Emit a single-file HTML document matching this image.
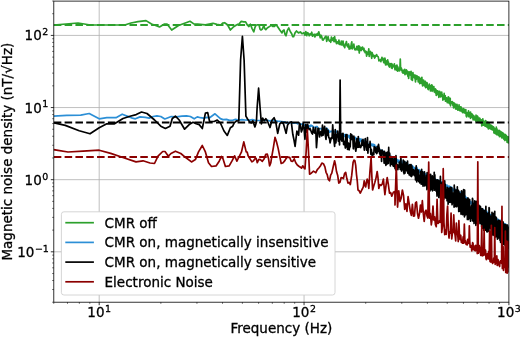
<!DOCTYPE html>
<html><head><meta charset="utf-8"><title>Magnetic noise density</title><style>html,body{margin:0;padding:0;background:#fff;overflow:hidden}svg{display:block}</style></head><body>
<svg width="520" height="337" viewBox="0 0 520 337">
<style>.t{font-family:"DejaVu Sans","Liberation Sans",sans-serif;font-size:13.5px;fill:#000;stroke:#000;stroke-width:0.3px}</style>
<rect width="520" height="337" fill="#fff"/>
<defs><clipPath id="ax"><rect x="53.8" y="1.1" width="455.09999999999997" height="301.09999999999997"/></clipPath></defs>
<g stroke="#b0b0b0" stroke-width="0.8"><line x1="99.20" y1="1.1" x2="99.20" y2="302.2"/><line x1="304.05" y1="1.1" x2="304.05" y2="302.2"/><line x1="53.8" y1="35.42" x2="508.9" y2="35.42"/><line x1="53.8" y1="107.55" x2="508.9" y2="107.55"/><line x1="53.8" y1="179.68" x2="508.9" y2="179.68"/><line x1="53.8" y1="251.81" x2="508.9" y2="251.81"/></g>
<g clip-path="url(#ax)" fill="none" stroke-width="1.7" stroke-linejoin="round" stroke-linecap="square">
<path d="M53.80,25.00 L66.00,24.00 L78.00,23.00 L90.50,25.00 L99.00,25.00 L115.00,25.00 L125.50,24.80 L131.00,23.00 L138.00,21.60 L146.00,20.60 L151.50,24.00 L155.00,25.30 L159.50,27.00 L164.50,24.00 L167.00,24.00 L171.70,30.00 L178.50,25.50 L190.00,21.30 L193.85,23.85 L197.70,24.20 L205.35,24.86 L213.00,23.30 L216.90,24.31 L220.80,25.20 L222.70,23.18 L224.60,22.70 L227.50,24.74 L230.40,30.00 L233.20,27.18 L236.00,25.20 L237.40,24.37 L238.80,24.20 L241.25,21.41 L243.70,21.90 L245.60,21.93 L247.50,25.20 L248.95,26.50 L250.40,24.20 L252.10,28.60 L253.80,31.90 L254.90,27.59 L256.00,25.20 L257.50,24.77 L259.00,24.80 L260.00,29.11 L261.00,30.00 L262.40,29.03 L263.80,25.20 L264.80,28.64 L265.80,29.60 L267.25,27.96 L268.70,27.10 L270.10,26.12 L271.50,25.20 L272.95,26.49 L274.40,26.50 L275.85,24.77 L277.30,26.20 L279.65,29.75 L282.00,32.90 L283.00,30.63 L284.00,30.00 L285.00,34.27 L286.00,35.80 L287.40,30.33 L288.80,28.00 L290.25,31.55 L291.70,33.80 L292.65,36.58 L293.60,36.70 L295.05,32.87 L296.50,31.00 L298.45,32.87 L300.40,31.90 L301.95,33.74 L303.50,32.90 L304.05,32.82 L304.94,35.15 L305.81,31.49 L306.68,35.65 L307.54,32.72 L308.39,33.49 L309.23,35.78 L310.07,33.83 L310.90,34.78 L311.72,32.21 L312.53,36.26 L313.33,35.24 L314.13,34.23 L314.92,36.92 L315.71,34.34 L316.48,35.32 L317.25,33.60 L318.02,35.29 L318.78,31.74 L319.53,34.70 L320.27,37.79 L321.01,35.23 L321.74,36.71 L322.47,39.93 L323.19,40.06 L323.90,38.89 L324.61,38.03 L325.31,36.68 L326.01,36.23 L326.70,41.32 L327.39,38.82 L328.07,36.63 L328.75,39.88 L329.42,41.01 L330.09,40.23 L330.75,42.26 L331.41,37.19 L332.06,40.33 L332.70,40.11 L333.35,37.93 L333.98,41.60 L334.62,36.50 L335.25,41.69 L335.87,39.89 L336.49,43.56 L337.11,41.77 L337.72,41.96 L338.32,43.60 L338.93,40.16 L339.53,44.37 L340.12,43.74 L340.71,44.54 L341.30,41.15 L341.88,45.00 L342.46,41.51 L343.04,41.03 L343.61,45.85 L344.18,46.07 L344.74,47.63 L345.31,44.08 L345.86,43.07 L346.42,41.64 L346.97,45.64 L347.52,46.26 L348.06,47.12 L348.60,43.97 L349.14,49.04 L349.67,46.44 L350.20,47.60 L350.73,48.72 L351.26,44.00 L351.78,41.92 L352.30,48.79 L352.81,46.12 L353.33,47.27 L353.84,44.04 L354.34,48.09 L354.85,49.72 L355.35,49.32 L355.85,49.83 L356.34,48.63 L356.84,46.30 L357.33,49.58 L357.81,46.39 L358.30,50.26 L358.78,45.80 L359.26,53.03 L359.74,46.71 L360.21,48.16 L360.68,48.04 L361.15,50.52 L361.62,47.67 L362.08,49.21 L362.55,47.09 L363.01,48.86 L363.46,50.04 L363.92,48.37 L364.37,51.76 L364.82,50.47 L365.27,52.76 L365.72,52.55 L366.16,51.43 L366.60,56.12 L367.04,53.07 L367.48,54.36 L367.91,51.76 L368.35,53.19 L368.78,48.93 L369.21,56.33 L369.63,52.02 L370.06,52.31 L370.48,51.42 L370.90,52.74 L371.32,55.98 L371.74,58.28 L372.15,52.58 L372.56,54.27 L372.97,54.74 L373.38,56.41 L373.79,55.36 L374.20,56.34 L374.60,58.06 L375.00,57.58 L375.40,55.61 L375.80,56.31 L376.19,56.02 L376.59,54.67 L376.98,55.42 L377.37,56.10 L377.76,56.48 L378.15,56.66 L378.54,58.43 L378.92,60.99 L379.30,60.00 L379.68,60.29 L380.06,60.29 L380.44,59.55 L380.82,61.70 L381.19,60.55 L381.56,59.64 L381.94,57.32 L382.31,60.01 L382.67,58.58 L383.04,58.32 L383.41,60.78 L383.77,62.67 L384.13,59.95 L384.49,63.01 L384.85,58.03 L385.21,59.72 L385.57,64.83 L385.92,61.66 L386.28,61.24 L386.63,64.76 L386.98,60.63 L387.33,64.50 L387.68,59.78 L388.02,62.87 L388.37,62.07 L388.71,65.90 L389.06,63.36 L389.40,67.04 L389.74,65.11 L390.08,65.68 L390.42,64.82 L390.75,63.71 L391.09,64.39 L391.42,67.83 L391.75,63.55 L392.08,68.44 L392.41,67.22 L392.74,64.99 L393.07,66.84 L393.40,65.44 L393.72,65.60 L394.05,66.50 L394.37,63.73 L394.69,66.75 L395.01,69.78 L395.33,65.82 L395.65,68.75 L395.97,67.07 L396.28,65.83 L396.60,70.16 L396.91,64.98 L397.22,66.86 L397.54,71.18 L397.85,66.91 L398.16,70.59 L398.46,69.28 L398.77,70.63 L399.08,69.73 L399.38,68.27 L399.69,70.81 L399.99,66.55 L400.29,59.00 L400.59,68.94 L400.89,69.72 L401.19,67.78 L401.49,68.50 L401.79,70.69 L402.08,69.80 L402.38,72.37 L402.67,71.41 L402.97,73.09 L403.26,72.47 L403.55,71.84 L403.84,70.10 L404.13,73.22 L404.42,70.18 L404.71,69.27 L404.99,74.74 L405.28,72.35 L405.56,73.90 L405.85,72.58 L406.13,73.22 L406.41,69.90 L406.69,70.96 L406.97,74.03 L407.25,73.57 L407.53,71.26 L407.81,76.18 L408.08,71.55 L408.36,73.85 L408.64,78.37 L408.91,75.41 L409.18,72.92 L409.46,72.22 L409.73,71.85 L410.00,72.78 L410.27,73.04 L410.54,75.26 L410.81,74.90 L411.07,71.31 L411.34,79.57 L411.61,77.44 L411.87,76.84 L412.13,78.03 L412.40,80.52 L412.66,73.40 L412.92,72.50 L413.18,75.73 L413.45,74.28 L413.71,77.47 L413.96,75.58 L414.22,75.75 L414.48,76.05 L414.74,75.05 L414.99,79.06 L415.25,78.66 L415.50,81.95 L415.76,75.26 L416.01,77.77 L416.26,79.45 L416.51,76.43 L416.76,77.95 L417.01,75.90 L417.26,76.41 L417.51,77.36 L417.76,78.70 L418.01,79.13 L418.26,81.80 L418.50,78.54 L418.75,76.91 L418.99,81.88 L419.24,77.43 L419.48,77.76 L419.72,83.74 L419.96,82.00 L420.21,79.67 L420.45,78.60 L420.69,80.28 L420.93,80.16 L421.16,83.51 L421.40,80.95 L421.64,79.11 L421.88,77.36 L422.11,82.63 L422.35,79.80 L422.58,85.87 L422.82,82.18 L423.05,80.13 L423.29,83.47 L423.52,83.53 L423.75,80.25 L423.98,84.96 L424.21,84.99 L424.44,85.89 L424.67,84.61 L424.90,84.89 L425.13,81.96 L425.36,81.30 L425.58,87.61 L425.81,87.07 L426.04,85.37 L426.26,87.26 L426.49,83.95 L426.71,86.45 L426.94,82.62 L427.16,83.35 L427.38,84.14 L427.60,85.86 L427.83,88.92 L428.05,85.86 L428.27,89.57 L428.49,86.59 L428.71,88.97 L428.93,86.21 L429.14,88.52 L429.36,84.21 L429.58,86.24 L429.80,87.37 L430.01,87.86 L430.23,85.90 L430.44,90.96 L430.66,90.13 L430.87,88.59 L431.08,88.37 L431.30,85.59 L431.51,85.66 L431.72,84.75 L431.93,85.00 L432.15,91.31 L432.36,85.97 L432.57,88.15 L432.78,86.59 L432.98,89.98 L433.19,86.82 L433.40,87.10 L433.61,87.31 L433.82,86.59 L434.02,90.36 L434.23,91.77 L434.43,88.94 L434.64,89.17 L434.84,92.30 L435.05,92.01 L435.25,88.75 L435.46,92.63 L435.66,92.91 L435.86,89.47 L436.06,92.07 L436.26,95.45 L436.47,90.27 L436.67,91.77 L436.87,92.07 L437.07,91.97 L437.27,92.45 L437.46,90.82 L437.66,94.02 L437.86,91.45 L438.06,95.02 L438.26,93.01 L438.45,92.01 L438.65,91.46 L438.84,97.49 L439.04,92.82 L439.23,94.28 L439.43,93.75 L439.62,91.42 L439.82,95.81 L440.01,91.78 L440.20,96.05 L440.39,96.11 L440.59,96.83 L440.78,95.59 L440.97,93.05 L441.16,94.68 L441.35,94.80 L441.54,95.96 L441.73,92.11 L441.92,96.45 L442.11,94.10 L442.30,95.02 L442.48,96.15 L442.67,95.68 L442.86,100.15 L443.04,98.76 L443.23,97.45 L443.42,98.33 L443.60,95.98 L443.79,99.17 L443.97,98.61 L444.16,93.46 L444.34,95.69 L444.52,97.29 L444.71,96.96 L444.89,98.28 L445.07,96.54 L445.25,95.90 L445.44,101.20 L445.62,98.98 L445.80,97.80 L445.98,101.05 L446.16,98.19 L446.34,97.78 L446.52,100.57 L446.70,98.92 L446.88,98.06 L447.06,98.27 L447.23,102.66 L447.41,102.02 L447.59,100.54 L447.77,98.79 L447.94,101.14 L448.12,98.74 L448.30,96.75 L448.47,100.68 L448.65,100.10 L448.82,97.40 L449.00,103.30 L449.17,99.33 L449.34,101.73 L449.52,98.93 L449.69,98.46 L449.86,100.07 L450.04,104.19 L450.21,98.30 L450.38,103.82 L450.55,105.79 L450.72,103.14 L450.89,102.04 L451.06,102.06 L451.24,103.67 L451.41,101.77 L451.57,102.95 L451.74,101.80 L451.91,102.59 L452.08,103.44 L452.25,101.67 L452.42,102.40 L452.59,103.26 L452.75,103.65 L452.92,105.43 L453.09,104.77 L453.25,104.49 L453.42,106.17 L453.59,107.79 L453.75,102.57 L453.92,104.16 L454.08,103.00 L454.25,105.23 L454.41,105.45 L454.57,103.36 L454.74,106.41 L454.90,105.74 L455.06,105.20 L455.23,107.80 L455.39,107.62 L455.55,108.94 L455.71,104.40 L455.87,108.25 L456.04,109.14 L456.20,107.66 L456.36,105.54 L456.52,105.88 L456.68,106.95 L456.84,108.91 L457.00,104.39 L457.16,105.29 L457.32,108.18 L457.48,106.65 L457.63,106.22 L457.79,110.22 L457.95,106.30 L458.11,108.65 L458.26,110.00 L458.42,109.09 L458.58,108.92 L458.73,109.09 L458.89,109.60 L459.05,104.74 L459.20,108.90 L459.36,109.88 L459.51,110.41 L459.67,110.59 L459.82,110.68 L459.98,106.75 L460.13,108.24 L460.28,108.73 L460.44,111.01 L460.59,108.74 L460.74,108.07 L460.90,106.94 L461.05,108.38 L461.20,110.93 L461.35,107.23 L461.51,108.05 L461.66,108.87 L461.81,110.07 L461.96,109.32 L462.11,112.02 L462.26,108.73 L462.41,110.60 L462.56,111.78 L462.71,112.63 L462.86,112.44 L463.01,108.85 L463.16,112.22 L463.31,111.73 L463.45,110.56 L463.60,108.67 L463.75,109.48 L463.90,112.48 L464.05,109.24 L464.19,110.48 L464.34,110.28 L464.49,112.83 L464.63,110.99 L464.78,109.72 L464.92,111.23 L465.07,111.10 L465.22,113.15 L465.36,111.25 L465.51,113.21 L465.65,112.53 L465.80,109.59 L465.94,113.68 L466.08,112.15 L466.23,116.18 L466.37,112.65 L466.51,115.83 L466.66,116.86 L466.80,115.92 L466.94,113.32 L467.09,112.92 L467.23,113.82 L467.37,113.41 L467.51,113.08 L467.65,114.52 L467.79,112.82 L467.94,114.29 L468.08,114.98 L468.22,112.08 L468.36,113.14 L468.50,110.76 L468.64,116.50 L468.78,116.71 L468.92,112.05 L469.06,116.05 L469.20,116.67 L469.33,116.59 L469.47,115.74 L469.61,115.62 L469.75,115.92 L469.89,115.28 L470.03,116.43 L470.16,115.08 L470.30,113.78 L470.44,118.30 L470.58,112.18 L470.71,116.66 L470.85,113.86 L470.98,117.16 L471.12,114.63 L471.26,116.39 L471.39,115.07 L471.53,114.44 L471.66,114.33 L471.80,113.88 L471.93,113.98 L472.07,114.03 L472.20,114.22 L472.34,118.02 L472.47,116.51 L472.61,114.65 L472.74,116.71 L472.87,116.87 L473.01,116.72 L473.14,119.99 L473.27,116.57 L473.40,118.83 L473.54,116.47 L473.67,117.15 L473.80,119.36 L473.93,115.95 L474.06,118.49 L474.20,117.36 L474.33,118.95 L474.46,116.89 L474.59,117.88 L474.72,117.09 L474.85,119.65 L474.98,119.97 L475.11,118.64 L475.24,120.46 L475.37,119.29 L475.50,119.86 L475.63,120.26 L475.76,117.22 L475.89,121.28 L476.02,115.17 L476.15,118.57 L476.27,117.06 L476.40,120.34 L476.53,118.00 L476.66,119.83 L476.79,117.55 L476.91,115.98 L477.04,118.53 L477.17,117.87 L477.30,116.94 L477.42,116.17 L477.55,121.66 L477.68,118.12 L477.80,116.68 L477.93,118.87 L478.05,117.62 L478.18,120.53 L478.30,119.20 L478.43,120.24 L478.56,122.03 L478.68,121.88 L478.81,122.26 L478.93,122.40 L479.05,120.75 L479.18,120.38 L479.30,118.13 L479.43,118.53 L479.55,120.71 L479.67,122.44 L479.80,120.40 L479.92,118.33 L480.04,119.44 L480.17,122.25 L480.29,119.32 L480.41,119.59 L480.54,120.10 L480.66,121.79 L480.78,122.99 L480.90,119.98 L481.02,121.95 L481.15,121.68 L481.27,121.32 L481.39,122.07 L481.51,123.31 L481.63,120.40 L481.75,125.86 L481.87,119.94 L481.99,122.09 L482.11,123.55 L482.23,124.66 L482.35,122.12 L482.47,121.29 L482.59,122.77 L482.71,121.81 L482.83,118.78 L482.95,122.71 L483.07,124.15 L483.19,124.68 L483.31,125.19 L483.42,122.21 L483.54,121.70 L483.66,121.06 L483.78,122.76 L483.90,124.68 L484.02,121.89 L484.13,125.03 L484.25,124.41 L484.37,121.93 L484.48,124.15 L484.60,125.16 L484.72,125.79 L484.84,122.01 L484.95,125.38 L485.07,125.21 L485.18,122.62 L485.30,122.94 L485.42,126.32 L485.53,120.59 L485.65,123.12 L485.76,125.34 L485.88,120.75 L485.99,124.29 L486.11,123.74 L486.22,124.73 L486.34,125.10 L486.45,125.35 L486.57,124.38 L486.68,126.72 L486.80,126.53 L486.91,127.08 L487.02,124.71 L487.14,126.20 L487.25,124.77 L487.36,124.08 L487.48,126.01 L487.59,127.55 L487.70,122.05 L487.82,124.38 L487.93,124.16 L488.04,126.94 L488.15,126.67 L488.27,127.53 L488.38,129.01 L488.49,127.66 L488.60,125.58 L488.71,124.85 L488.83,125.26 L488.94,128.58 L489.05,122.79 L489.16,124.16 L489.27,125.38 L489.38,127.47 L489.49,124.11 L489.60,124.18 L489.71,124.29 L489.82,128.47 L489.93,125.86 L490.04,125.85 L490.15,128.29 L490.26,125.98 L490.37,128.15 L490.48,126.37 L490.59,126.07 L490.70,126.58 L490.81,125.55 L490.92,125.15 L491.03,129.20 L491.14,129.25 L491.24,127.27 L491.35,128.48 L491.46,129.42 L491.57,127.14 L491.68,128.82 L491.79,129.11 L491.89,125.80 L492.00,126.17 L492.11,129.30 L492.22,129.15 L492.32,126.63 L492.43,129.91 L492.54,129.85 L492.64,127.58 L492.75,127.69 L492.86,126.62 L492.96,128.37 L493.07,126.76 L493.18,129.00 L493.28,129.48 L493.39,129.34 L493.49,126.86 L493.60,129.68 L493.71,130.41 L493.81,127.43 L493.92,132.97 L494.02,130.96 L494.13,127.90 L494.23,131.57 L494.34,131.94 L494.44,130.71 L494.55,131.58 L494.65,128.65 L494.75,130.69 L494.86,132.06 L494.96,133.44 L495.07,131.68 L495.17,128.83 L495.27,131.72 L495.38,131.00 L495.48,131.87 L495.59,129.94 L495.69,130.25 L495.79,132.69 L495.89,134.01 L496.00,128.99 L496.10,133.15 L496.20,132.92 L496.31,127.20 L496.41,133.36 L496.51,129.89 L496.61,134.71 L496.71,133.23 L496.82,128.89 L496.92,128.89 L497.02,130.55 L497.12,133.64 L497.22,133.01 L497.32,131.05 L497.43,133.48 L497.53,130.80 L497.63,131.06 L497.73,130.35 L497.83,134.26 L497.93,133.55 L498.03,131.91 L498.13,135.15 L498.23,134.57 L498.33,131.79 L498.43,130.93 L498.53,132.07 L498.63,133.61 L498.73,133.94 L498.83,130.69 L498.93,134.95 L499.03,133.66 L499.13,130.67 L499.23,134.61 L499.33,135.35 L499.43,136.65 L499.53,130.67 L499.63,133.06 L499.72,133.71 L499.82,135.27 L499.92,133.41 L500.02,131.35 L500.12,135.70 L500.22,135.85 L500.31,133.59 L500.41,131.50 L500.51,135.49 L500.61,135.07 L500.70,136.29 L500.80,131.53 L500.90,133.74 L501.00,133.05 L501.09,132.24 L501.19,135.44 L501.29,133.54 L501.39,132.09 L501.48,132.63 L501.58,137.38 L501.68,135.12 L501.77,133.24 L501.87,135.71 L501.96,132.94 L502.06,138.03 L502.16,135.70 L502.25,132.52 L502.35,135.11 L502.44,136.25 L502.54,136.48 L502.63,136.28 L502.73,137.24 L502.83,136.66 L502.92,137.56 L503.02,135.08 L503.11,133.24 L503.21,134.04 L503.30,134.64 L503.40,133.47 L503.49,133.87 L503.58,135.98 L503.68,134.71 L503.77,134.94 L503.87,139.35 L503.96,137.91 L504.06,138.01 L504.15,135.62 L504.24,137.38 L504.34,138.15 L504.43,134.71 L504.52,135.02 L504.62,137.32 L504.71,135.47 L504.80,135.17 L504.90,140.59 L504.99,134.41 L505.08,136.58 L505.18,134.69 L505.27,135.74 L505.36,135.66 L505.45,136.28 L505.55,135.32 L505.64,137.11 L505.73,138.26 L505.82,136.58 L505.91,139.58 L506.01,139.30 L506.10,136.60 L506.19,135.32 L506.28,139.03 L506.37,136.45 L506.46,136.97 L506.56,138.27 L506.65,140.43 L506.74,136.99 L506.83,137.90 L506.92,138.75 L507.01,142.12 L507.10,136.80 L507.19,138.77 L507.28,138.58 L507.37,139.21 L507.47,136.55 L507.56,136.67 L507.65,140.97 L507.74,140.26 L507.83,140.36 L507.92,140.95 L508.01,142.58 L508.10,142.68 L508.19,141.79 L508.28,139.72 L508.36,141.97 L508.45,142.91 L508.54,138.29 L508.63,141.07 L508.72,138.85 L508.81,137.61 L508.90,136.99" stroke="#2ca02c"/>
<line x1="53.8" y1="25.0" x2="508.9" y2="25.0" stroke="#2ca02c" stroke-width="2.05" stroke-dasharray="7.55,3.26" stroke-linecap="butt"/>
<path d="M53.80,116.20 L66.80,115.40 L80.70,115.10 L89.20,113.50 L99.20,118.80 L106.80,117.70 L116.00,117.70 L122.20,114.20 L128.40,116.60 L130.00,117.30 L132.30,118.10 L135.40,118.80 L140.00,116.90 L145.40,117.30 L149.20,118.10 L153.10,116.50 L156.90,115.80 L160.80,116.50 L164.80,119.00 L168.10,117.70 L171.20,116.50 L176.50,116.90 L181.90,116.20 L186.50,115.80 L190.40,116.50 L194.20,118.80 L197.30,116.90 L200.40,117.70 L203.50,118.10 L206.90,117.40 L209.60,117.70 L215.00,113.80 L220.40,118.60 L223.00,119.60 L226.50,119.40 L229.50,120.40 L232.70,120.30 L235.50,119.40 L238.80,120.00 L242.00,119.60 L245.00,120.00 L249.60,120.20 L252.50,119.60 L255.80,120.50 L262.00,120.50 L266.00,120.00 L269.60,120.80 L273.60,120.40 L277.30,121.20 L283.50,121.80 L284.20,121.96 L285.30,121.93 L286.39,123.21 L287.47,122.41 L288.54,122.54 L289.59,122.89 L290.63,122.88 L291.66,122.22 L292.68,123.23 L293.68,123.00 L294.68,123.03 L295.66,122.76 L296.63,123.18 L297.59,123.86 L298.55,123.28 L299.49,123.63 L300.42,124.61 L301.34,124.05 L302.25,124.04 L303.16,123.97 L304.05,125.27 L304.94,124.87 L305.81,125.96 L306.68,126.50 L307.54,125.11 L308.39,126.02 L309.23,125.91 L310.07,126.92 L310.90,125.10 L311.72,126.06 L312.53,125.93 L313.33,127.42 L314.13,127.43 L314.92,127.58 L315.71,126.82 L316.48,126.60 L317.25,126.61 L318.02,128.53 L318.78,128.77 L319.53,128.65 L320.27,128.50 L321.01,128.63 L321.74,129.29 L322.47,127.97 L323.19,129.40 L323.90,128.99 L324.61,129.21 L325.31,128.63 L326.01,128.37 L326.70,128.13 L327.39,130.69 L328.07,129.59 L328.75,130.43 L329.42,132.30 L330.09,131.40 L330.75,131.71 L331.41,131.35 L332.06,131.35 L332.70,132.38 L333.35,130.77 L333.98,131.97 L334.62,131.99 L335.25,131.55 L335.87,130.79 L336.49,131.58 L337.11,132.56 L337.72,133.04 L338.32,134.02 L338.93,133.55 L339.53,133.37 L340.12,133.12 L340.71,134.00 L341.30,134.65 L341.88,133.65 L342.46,134.02 L343.04,134.97 L343.61,136.38 L344.18,134.62 L344.74,136.40 L345.31,136.04 L345.86,134.42 L346.42,134.97 L346.97,136.11 L347.52,137.25 L348.06,135.25 L348.60,136.77 L349.14,135.58 L349.67,138.23 L350.20,136.62 L350.73,136.38 L351.26,138.82 L351.78,137.88 L352.30,136.36 L352.81,137.57 L353.33,136.99 L353.84,138.02 L354.34,138.41 L354.85,138.07 L355.35,137.39 L355.85,138.71 L356.34,139.56 L356.84,138.49 L357.33,139.82 L357.81,138.93 L358.30,141.17 L358.78,141.72 L359.26,139.14 L359.74,138.56 L360.21,141.44 L360.68,141.33 L361.15,139.08 L361.62,140.70 L362.08,140.84 L362.55,140.85 L363.01,141.89 L363.46,142.55 L363.92,141.95 L364.37,140.05 L364.82,142.05 L365.27,142.13 L365.72,141.87 L366.16,141.55 L366.60,142.66 L367.04,143.16 L367.48,143.08 L367.91,144.79 L368.35,144.65 L368.78,144.42 L369.21,144.15 L369.63,144.03 L370.06,145.98 L370.48,143.21 L370.90,145.34 L371.32,144.16 L371.74,145.18 L372.15,144.37 L372.56,145.97 L372.97,144.09 L373.38,145.37 L373.79,144.82 L374.20,146.21 L374.60,144.72 L375.00,148.99 L375.40,147.91 L375.80,146.78 L376.19,146.59 L376.59,147.88 L376.98,148.63 L377.37,148.69 L377.76,150.06 L378.15,149.17 L378.54,149.92 L378.92,151.18 L379.30,150.82 L379.68,150.22 L380.06,149.61 L380.44,151.22 L380.82,150.37 L381.19,151.43 L381.56,151.59 L381.94,153.50 L382.31,150.41 L382.67,152.48 L383.04,151.23 L383.41,153.91 L383.77,153.98 L384.13,153.06 L384.49,153.65 L384.85,155.83 L385.21,152.80 L385.57,154.42 L385.92,155.20 L386.28,153.82 L386.63,155.50 L386.98,156.27 L387.33,155.64 L387.68,155.02 L388.02,156.04 L388.37,156.51 L388.71,156.51 L389.06,156.61 L389.40,158.31 L389.74,156.53 L390.08,156.74 L390.42,157.28 L390.75,157.73 L391.09,159.69 L391.42,156.37 L391.75,159.58 L392.08,159.16 L392.41,159.70 L392.74,158.15 L393.07,159.66 L393.40,157.68 L393.72,158.41 L394.05,158.66 L394.37,158.42 L394.69,160.76 L395.01,159.94 L395.33,158.91 L395.65,161.43 L395.97,159.43 L396.28,159.71 L396.60,159.46 L396.91,159.38 L397.22,160.15 L397.54,160.75 L397.85,161.84 L398.16,160.21 L398.46,160.99 L398.77,162.27 L399.08,161.87 L399.38,161.14 L399.69,162.44 L399.99,161.01 L400.29,159.91 L400.59,161.78 L400.89,163.80 L401.19,160.18 L401.49,160.80 L401.79,162.05 L402.08,162.13 L402.38,163.73 L402.67,162.95 L402.97,164.48 L403.26,162.50 L403.55,163.56 L403.84,164.06 L404.13,161.91 L404.42,162.33 L404.71,161.98 L404.99,162.85 L405.28,162.82 L405.56,163.66 L405.85,162.25 L406.13,165.08 L406.41,164.72 L406.69,163.71 L406.97,165.36 L407.25,164.24 L407.53,166.14 L407.81,166.84 L408.08,164.42 L408.36,166.41 L408.64,165.15 L408.91,166.34 L409.18,165.92 L409.46,165.43 L409.73,166.12 L410.00,165.89 L410.27,166.21 L410.54,165.40 L410.81,165.82 L411.07,165.45 L411.34,165.74 L411.61,165.57 L411.87,166.38 L412.13,166.62 L412.40,165.69 L412.66,166.35 L412.92,167.91 L413.18,166.77 L413.45,167.36 L413.71,167.69 L413.96,168.50 L414.22,167.62 L414.48,167.74 L414.74,168.87 L414.99,168.27 L415.25,168.78 L415.50,168.51 L415.76,169.00 L416.01,168.82 L416.26,169.72 L416.51,168.28 L416.76,170.91 L417.01,167.79 L417.26,169.76 L417.51,169.98 L417.76,170.68 L418.01,169.50 L418.26,170.35 L418.50,170.92 L418.75,171.19 L418.99,169.96 L419.24,169.73 L419.48,170.54 L419.72,172.60 L419.96,171.51 L420.21,171.93 L420.45,170.86 L420.69,170.59 L420.93,171.79 L421.16,172.15 L421.40,171.27 L421.64,172.09 L421.88,171.46 L422.11,172.25 L422.35,172.61 L422.58,172.39 L422.82,172.80 L423.05,172.36 L423.29,174.30 L423.52,174.61 L423.75,173.60 L423.98,173.97 L424.21,173.03 L424.44,173.98 L424.67,173.55 L424.90,173.97 L425.13,173.91 L425.36,174.89 L425.58,175.37 L425.81,175.66 L426.04,174.08 L426.26,175.34 L426.49,175.73 L426.71,174.34 L426.94,174.97 L427.16,176.73 L427.38,176.76 L427.60,175.20 L427.83,174.75 L428.05,175.78 L428.27,174.25 L428.49,175.21 L428.71,177.13 L428.93,176.81 L429.14,177.82 L429.36,176.84 L429.58,176.44 L429.80,175.98 L430.01,178.36 L430.23,177.25 L430.44,177.03 L430.66,176.27 L430.87,177.56 L431.08,178.19 L431.30,176.76 L431.51,177.72 L431.72,177.22 L431.93,177.66 L432.15,177.98 L432.36,179.25 L432.57,178.84 L432.78,178.37 L432.98,178.13 L433.19,177.60 L433.40,178.71 L433.61,179.08 L433.82,179.55 L434.02,177.66 L434.23,179.56 L434.43,179.50 L434.64,180.35 L434.84,180.30 L435.05,178.61 L435.25,180.19 L435.46,180.17 L435.66,180.72 L435.86,181.39 L436.06,179.60 L436.26,181.45 L436.47,180.82 L436.67,180.18 L436.87,180.58 L437.07,181.63 L437.27,182.11 L437.46,181.82 L437.66,180.25 L437.86,179.76 L438.06,182.72 L438.26,180.35 L438.45,181.52 L438.65,183.25 L438.84,183.44 L439.04,182.84 L439.23,181.22 L439.43,182.35 L439.62,184.23 L439.82,182.48 L440.01,183.44 L440.20,181.71 L440.39,182.67 L440.59,182.31 L440.78,183.35 L440.97,182.47 L441.16,181.67 L441.35,182.65 L441.54,182.33 L441.73,183.97 L441.92,184.24 L442.11,185.11 L442.30,183.58 L442.48,185.53 L442.67,184.35 L442.86,184.00 L443.04,183.04 L443.23,185.26 L443.42,184.02 L443.60,184.18 L443.79,184.12 L443.97,186.03 L444.16,184.65 L444.34,184.68 L444.52,185.04 L444.71,184.75 L444.89,184.69 L445.07,185.33 L445.25,184.10 L445.44,186.42 L445.62,185.56 L445.80,185.72 L445.98,186.29 L446.16,187.22 L446.34,186.23 L446.52,185.37 L446.70,185.25 L446.88,186.71 L447.06,185.53 L447.23,185.24 L447.41,186.72 L447.59,186.76 L447.77,187.36 L447.94,187.37 L448.12,187.11 L448.30,187.12 L448.47,186.84 L448.65,187.35 L448.82,186.09 L449.00,187.40 L449.17,188.33 L449.34,188.59 L449.52,188.40 L449.69,186.29 L449.86,187.85 L450.04,187.84 L450.21,189.26 L450.38,189.44 L450.55,188.07 L450.72,188.13 L450.89,188.17 L451.06,187.46 L451.24,187.63 L451.41,188.50 L451.57,187.09 L451.74,188.12 L451.91,188.87 L452.08,188.69 L452.25,189.68 L452.42,191.19 L452.59,188.64 L452.75,188.63 L452.92,189.09 L453.09,190.37 L453.25,189.83 L453.42,189.59 L453.59,189.57 L453.75,190.19 L453.92,190.80 L454.08,189.49 L454.25,190.79 L454.41,191.28 L454.57,189.67 L454.74,189.56 L454.90,189.84 L455.06,190.50 L455.23,189.38 L455.39,191.96 L455.55,191.99 L455.71,190.93 L455.87,190.56 L456.04,192.74 L456.20,191.72 L456.36,191.41 L456.52,192.20 L456.68,191.78 L456.84,190.86 L457.00,192.19 L457.16,191.04 L457.32,193.31 L457.48,191.57 L457.63,192.47 L457.79,192.16 L457.95,193.59 L458.11,192.55 L458.26,191.60 L458.42,192.35 L458.58,192.00 L458.73,193.68 L458.89,192.21 L459.05,193.07 L459.20,192.53 L459.36,192.87 L459.51,193.75 L459.67,193.53 L459.82,192.48 L459.98,192.72 L460.13,192.18 L460.28,193.39 L460.44,194.07 L460.59,195.15 L460.74,193.25 L460.90,194.02 L461.05,195.02 L461.20,194.45 L461.35,194.60 L461.51,195.18 L461.66,194.52 L461.81,193.12 L461.96,193.87 L462.11,194.83 L462.26,195.90 L462.41,195.05 L462.56,193.54 L462.71,193.90 L462.86,196.19 L463.01,195.02 L463.16,195.50 L463.31,194.45 L463.45,197.56 L463.60,196.07 L463.75,196.12 L463.90,196.25 L464.05,196.60 L464.19,195.88 L464.34,196.63 L464.49,196.33 L464.63,197.79 L464.78,195.71 L464.92,197.07 L465.07,198.30 L465.22,197.21 L465.36,199.02 L465.51,198.25 L465.65,197.82 L465.80,197.18 L465.94,198.31 L466.08,199.44 L466.23,199.63 L466.37,199.28 L466.51,199.44 L466.66,198.79 L466.80,199.81 L466.94,197.97 L467.09,198.87 L467.23,198.64 L467.37,199.67 L467.51,199.68 L467.65,199.70 L467.79,198.74 L467.94,199.18 L468.08,199.63 L468.22,200.16 L468.36,198.74 L468.50,200.47 L468.64,201.27 L468.78,200.38 L468.92,200.95 L469.06,200.38 L469.20,200.51 L469.33,201.04 L469.47,200.05 L469.61,201.49 L469.75,201.08 L469.89,201.15 L470.03,202.81 L470.16,202.64 L470.30,202.06 L470.44,201.51 L470.58,202.66 L470.71,202.03 L470.85,203.65 L470.98,203.36 L471.12,202.75 L471.26,202.73 L471.39,204.16 L471.53,203.20 L471.66,204.25 L471.80,202.08 L471.93,202.78 L472.07,204.52 L472.20,202.34 L472.34,203.42 L472.47,203.75 L472.61,203.90 L472.74,202.49 L472.87,203.62 L473.01,204.26 L473.14,202.85 L473.27,204.97 L473.40,205.04 L473.54,205.32 L473.67,204.77 L473.80,205.59 L473.93,204.69 L474.06,204.04 L474.20,205.85 L474.33,204.49 L474.46,205.02 L474.59,204.59 L474.72,204.90 L474.85,207.11 L474.98,205.72 L475.11,206.44 L475.24,205.19 L475.37,207.02 L475.50,207.40 L475.63,207.25 L475.76,206.59 L475.89,207.77 L476.02,206.29 L476.15,206.75 L476.27,206.61 L476.40,205.40 L476.53,207.08 L476.66,207.21 L476.79,208.52 L476.91,207.30 L477.04,207.00 L477.17,206.89 L477.30,206.60 L477.42,207.38 L477.55,208.31 L477.68,208.18 L477.80,208.40 L477.93,208.96 L478.05,207.61 L478.18,208.05 L478.30,208.02 L478.43,207.61 L478.56,208.77 L478.68,207.54 L478.81,208.74 L478.93,208.69 L479.05,208.13 L479.18,207.60 L479.30,208.63 L479.43,208.07 L479.55,207.79 L479.67,208.51 L479.80,210.10 L479.92,209.40 L480.04,208.22 L480.17,208.97 L480.29,209.40 L480.41,208.49 L480.54,209.28 L480.66,210.22 L480.78,209.58 L480.90,210.55 L481.02,209.71 L481.15,210.35 L481.27,210.76 L481.39,209.17 L481.51,210.65 L481.63,211.01 L481.75,208.68 L481.87,210.61 L481.99,209.18 L482.11,209.95 L482.23,210.61 L482.35,209.09 L482.47,209.93 L482.59,209.12 L482.71,209.91 L482.83,210.77 L482.95,209.87 L483.07,211.75 L483.19,210.23 L483.31,209.65 L483.42,211.03 L483.54,211.56 L483.66,210.80 L483.78,209.82 L483.90,212.13 L484.02,212.41 L484.13,211.36 L484.25,211.75 L484.37,212.66 L484.48,210.82 L484.60,211.40 L484.72,212.60 L484.84,212.29 L484.95,211.51 L485.07,211.14 L485.18,213.02 L485.30,212.50 L485.42,211.62 L485.53,212.76 L485.65,213.02 L485.76,211.03 L485.88,212.01 L485.99,212.44 L486.11,211.97 L486.22,211.84 L486.34,212.33 L486.45,214.33 L486.57,212.41 L486.68,211.42 L486.80,213.81 L486.91,211.82 L487.02,212.46 L487.14,212.55 L487.25,214.94 L487.36,213.45 L487.48,213.48 L487.59,213.54 L487.70,213.41 L487.82,213.77 L487.93,212.82 L488.04,213.08 L488.15,213.12 L488.27,214.25 L488.38,213.67 L488.49,214.38 L488.60,214.23 L488.71,213.97 L488.83,214.34 L488.94,213.84 L489.05,214.39 L489.16,214.82 L489.27,214.68 L489.38,213.81 L489.49,214.84 L489.60,214.40 L489.71,215.15 L489.82,215.06 L489.93,216.48 L490.04,214.31 L490.15,215.07 L490.26,216.45 L490.37,215.31 L490.48,215.86 L490.59,215.58 L490.70,214.87 L490.81,214.83 L490.92,215.11 L491.03,215.12 L491.14,214.97 L491.24,214.88 L491.35,216.82 L491.46,215.70 L491.57,216.35 L491.68,215.19 L491.79,217.30 L491.89,217.07 L492.00,215.69 L492.11,215.22 L492.22,216.27 L492.32,215.27 L492.43,215.05 L492.54,215.92 L492.64,215.97 L492.75,215.41 L492.86,217.26 L492.96,217.40 L493.07,216.43 L493.18,217.20 L493.28,217.05 L493.39,216.26 L493.49,217.94 L493.60,218.13 L493.71,218.47 L493.81,217.76 L493.92,216.47 L494.02,216.78 L494.13,218.13 L494.23,218.25 L494.34,218.40 L494.44,218.11 L494.55,218.02 L494.65,218.57 L494.75,218.74 L494.86,219.14 L494.96,216.66 L495.07,217.50 L495.17,216.84 L495.27,218.43 L495.38,218.95 L495.48,218.71 L495.59,217.53 L495.69,217.42 L495.79,219.96 L495.89,219.53 L496.00,218.55 L496.10,219.64 L496.20,220.04 L496.31,219.57 L496.41,219.53 L496.51,219.83 L496.61,219.21 L496.71,220.35 L496.82,218.84 L496.92,219.63 L497.02,219.78 L497.12,220.96 L497.22,219.62 L497.32,219.61 L497.43,220.62 L497.53,219.78 L497.63,219.72 L497.73,220.25 L497.83,221.38 L497.93,219.60 L498.03,220.82 L498.13,220.55 L498.23,220.34 L498.33,220.10 L498.43,219.47 L498.53,221.11 L498.63,221.08 L498.73,221.31 L498.83,220.02 L498.93,220.70 L499.03,220.91 L499.13,222.01 L499.23,220.29 L499.33,222.09 L499.43,222.03 L499.53,222.25 L499.63,221.54 L499.72,221.22 L499.82,221.42 L499.92,222.34 L500.02,222.06 L500.12,221.61 L500.22,222.82 L500.31,221.47 L500.41,220.31 L500.51,220.37 L500.61,222.55 L500.70,222.08 L500.80,220.74 L500.90,222.48 L501.00,221.65 L501.09,222.09 L501.19,223.21 L501.29,224.14 L501.39,222.40 L501.48,223.16 L501.58,222.01 L501.68,223.51 L501.77,221.99 L501.87,222.33 L501.96,223.09 L502.06,223.24 L502.16,224.18 L502.25,222.85 L502.35,222.20 L502.44,222.62 L502.54,223.70 L502.63,223.14 L502.73,223.55 L502.83,223.76 L502.92,224.63 L503.02,222.39 L503.11,224.27 L503.21,225.00 L503.30,225.62 L503.40,224.07 L503.49,224.32 L503.58,225.72 L503.68,224.31 L503.77,224.61 L503.87,223.27 L503.96,224.46 L504.06,224.52 L504.15,224.50 L504.24,224.75 L504.34,223.98 L504.43,224.98 L504.52,224.36 L504.62,224.72 L504.71,223.96 L504.80,225.10 L504.90,224.79 L504.99,224.52 L505.08,225.97 L505.18,225.37 L505.27,226.31 L505.36,224.97 L505.45,225.31 L505.55,224.07 L505.64,226.82 L505.73,225.55 L505.82,225.95 L505.91,225.90 L506.01,225.80 L506.10,225.19 L506.19,225.09 L506.28,225.59 L506.37,225.97 L506.46,226.87 L506.56,227.43 L506.65,227.39 L506.74,226.27 L506.83,226.37 L506.92,226.85 L507.01,227.16 L507.10,225.12 L507.19,226.98 L507.28,226.23 L507.37,226.51 L507.47,227.47 L507.56,227.69 L507.65,228.55 L507.74,227.73 L507.83,227.07 L507.92,226.49 L508.01,228.00 L508.10,227.16 L508.19,226.33 L508.28,228.38 L508.36,227.59 L508.45,227.88 L508.54,227.54 L508.63,226.35 L508.72,228.43 L508.81,227.49 L508.90,227.88" stroke="#2c8fd6"/>
<path d="M53.80,122.80 L65.30,125.40 L79.20,130.80 L90.00,133.80 L99.20,127.70 L106.80,123.80 L114.50,123.80 L123.00,118.50 L130.00,116.20 L136.20,114.60 L141.50,112.00 L147.00,113.50 L154.60,120.00 L160.80,126.20 L165.40,128.50 L170.00,126.20 L172.30,118.50 L175.40,116.20 L179.20,120.00 L184.60,129.20 L189.20,124.60 L193.00,122.30 L196.20,123.80 L199.20,124.60 L202.30,128.50 L205.40,113.10 L207.70,112.60 L209.60,121.50 L214.20,121.50 L217.30,120.00 L220.40,123.00 L224.00,131.00 L227.30,135.40 L230.40,127.70 L232.70,126.20 L234.20,123.00 L236.50,120.80 L238.80,121.00 L240.60,60.00 L242.40,36.30 L244.10,60.00 L245.90,116.10 L247.60,119.00 L249.20,121.30 L251.20,122.90 L252.80,120.80 L254.90,127.00 L256.40,122.30 L257.10,108.00 L258.60,88.20 L260.10,108.00 L261.40,123.90 L262.70,118.20 L264.20,120.80 L265.80,118.70 L267.30,120.80 L270.00,127.50 L272.00,120.30 L274.10,117.70 L275.70,121.80 L277.70,133.30 L279.80,123.90 L281.40,122.30 L283.50,123.90 L286.10,133.30 L287.60,125.00 L289.70,122.30 L291.30,121.80 L292.80,134.30 L294.00,140.00 L295.10,146.40 L296.90,131.00 L298.60,135.10 L299.49,123.08 L300.42,125.00 L301.34,132.00 L302.25,129.45 L303.16,123.54 L304.05,127.86 L304.94,139.30 L305.81,124.64 L306.68,132.03 L307.54,124.23 L308.39,127.88 L309.23,129.61 L310.07,128.61 L310.90,130.82 L311.72,132.99 L312.53,134.00 L313.33,127.27 L314.13,132.34 L314.92,133.16 L315.71,127.79 L316.48,147.60 L317.25,137.56 L318.02,128.27 L318.78,128.62 L319.53,136.99 L320.27,132.78 L321.01,131.29 L321.74,135.83 L322.47,125.11 L323.19,135.19 L323.90,130.41 L324.61,126.31 L325.31,135.04 L326.01,139.46 L326.70,128.66 L327.39,135.45 L328.07,130.53 L328.75,137.79 L329.42,137.77 L330.09,142.80 L330.75,140.11 L331.41,137.58 L332.06,138.27 L332.70,124.91 L333.35,134.54 L333.98,140.39 L334.62,146.40 L335.25,129.61 L335.87,142.82 L336.49,135.11 L337.11,136.85 L337.72,131.14 L338.32,141.25 L338.93,134.15 L339.53,144.91 L340.12,80.00 L340.71,139.75 L341.30,136.97 L341.88,141.18 L342.46,133.56 L343.04,133.44 L343.61,144.35 L344.18,144.60 L344.74,141.27 L345.31,148.04 L345.86,134.88 L346.42,147.00 L346.97,134.58 L347.52,149.35 L348.06,143.26 L348.60,143.10 L349.14,149.83 L349.67,146.65 L350.20,146.83 L350.73,133.83 L351.26,139.62 L351.78,134.75 L352.30,136.85 L352.81,137.39 L353.33,148.83 L353.84,136.22 L354.34,139.34 L354.85,142.89 L355.35,149.16 L355.85,151.26 L356.34,147.00 L356.84,138.75 L357.33,144.50 L357.81,147.35 L358.30,136.53 L358.78,147.17 L359.26,142.13 L359.74,145.94 L360.21,147.39 L360.68,147.51 L361.15,145.25 L361.62,145.91 L362.08,140.27 L362.55,145.21 L363.01,139.42 L363.46,145.26 L363.92,146.27 L364.37,150.17 L364.82,144.29 L365.27,138.56 L365.72,146.66 L366.16,141.77 L366.60,150.23 L367.04,144.90 L367.48,137.53 L367.91,153.15 L368.35,145.38 L368.78,144.84 L369.21,144.97 L369.63,147.10 L370.06,141.44 L370.48,148.51 L370.90,154.41 L371.32,149.30 L371.74,152.29 L372.15,155.60 L372.56,154.30 L372.97,153.09 L373.38,154.40 L373.79,154.77 L374.20,146.53 L374.60,150.22 L375.00,148.39 L375.40,147.44 L375.80,152.34 L376.19,148.79 L376.59,153.56 L376.98,153.27 L377.37,146.36 L377.76,151.68 L378.15,151.15 L378.54,144.28 L378.92,147.12 L379.30,148.58 L379.68,153.98 L380.06,152.61 L380.44,156.77 L380.82,152.02 L381.19,150.23 L381.56,161.49 L381.94,151.42 L382.31,150.20 L382.67,152.44 L383.04,153.57 L383.41,152.09 L383.77,157.00 L384.13,163.24 L384.49,151.31 L384.85,155.88 L385.21,159.91 L385.57,163.39 L385.92,165.35 L386.28,152.73 L386.63,158.87 L386.98,164.26 L387.33,152.06 L387.68,160.32 L388.02,154.32 L388.37,163.46 L388.71,147.43 L389.06,160.46 L389.40,152.74 L389.74,153.79 L390.08,159.27 L390.42,165.90 L390.75,156.89 L391.09,163.53 L391.42,159.72 L391.75,157.77 L392.08,164.50 L392.41,158.71 L392.74,159.81 L393.07,165.86 L393.40,161.96 L393.72,166.43 L394.05,162.57 L394.37,157.37 L394.69,161.77 L395.01,168.35 L395.33,163.87 L395.65,170.01 L395.97,155.70 L396.28,160.93 L396.60,167.51 L396.91,166.40 L397.22,164.67 L397.54,166.35 L397.85,169.68 L398.16,166.92 L398.46,165.02 L398.77,165.38 L399.08,167.08 L399.38,162.08 L399.69,167.40 L399.99,166.72 L400.29,169.42 L400.59,164.97 L400.89,158.31 L401.19,166.09 L401.49,171.04 L401.79,167.91 L402.08,168.09 L402.38,164.43 L402.67,164.05 L402.97,169.62 L403.26,160.13 L403.55,172.09 L403.84,172.37 L404.13,173.79 L404.42,161.52 L404.71,161.35 L404.99,173.16 L405.28,165.89 L405.56,164.06 L405.85,165.86 L406.13,170.15 L406.41,162.81 L406.69,167.82 L406.97,170.54 L407.25,171.57 L407.53,161.07 L407.81,173.18 L408.08,167.65 L408.36,167.80 L408.64,169.82 L408.91,165.71 L409.18,174.93 L409.46,164.94 L409.73,170.02 L410.00,164.52 L410.27,171.43 L410.54,175.92 L410.81,175.83 L411.07,164.69 L411.34,172.30 L411.61,176.57 L411.87,166.18 L412.13,169.63 L412.40,174.39 L412.66,174.96 L412.92,170.72 L413.18,173.80 L413.45,174.45 L413.71,169.72 L413.96,174.55 L414.22,173.56 L414.48,175.62 L414.74,172.88 L414.99,170.29 L415.25,172.01 L415.50,179.90 L415.76,168.43 L416.01,167.96 L416.26,165.95 L416.51,179.52 L416.76,181.89 L417.01,170.00 L417.26,170.64 L417.51,169.71 L417.76,176.36 L418.01,174.66 L418.26,180.28 L418.50,170.51 L418.75,181.57 L418.99,174.98 L419.24,180.78 L419.48,180.86 L419.72,182.82 L419.96,176.21 L420.21,178.20 L420.45,177.56 L420.69,171.57 L420.93,176.90 L421.16,184.15 L421.40,184.03 L421.64,169.34 L421.88,180.26 L422.11,174.76 L422.35,171.70 L422.58,171.91 L422.82,183.14 L423.05,186.10 L423.29,178.81 L423.52,176.64 L423.75,178.95 L423.98,184.57 L424.21,183.32 L424.44,171.77 L424.67,174.46 L424.90,185.90 L425.13,179.59 L425.36,182.60 L425.58,184.83 L425.81,182.55 L426.04,184.40 L426.26,181.27 L426.49,175.90 L426.71,175.30 L426.94,189.59 L427.16,172.48 L427.38,184.59 L427.60,188.10 L427.83,176.79 L428.05,173.69 L428.27,180.04 L428.49,178.96 L428.71,181.44 L428.93,180.98 L429.14,190.32 L429.36,175.75 L429.58,190.68 L429.80,174.70 L430.01,190.90 L430.23,180.14 L430.44,187.39 L430.66,174.45 L430.87,182.61 L431.08,186.92 L431.30,186.17 L431.51,189.54 L431.72,177.82 L431.93,182.46 L432.15,186.47 L432.36,175.94 L432.57,190.80 L432.78,183.27 L432.98,180.29 L433.19,179.99 L433.40,187.98 L433.61,177.04 L433.82,180.78 L434.02,182.01 L434.23,172.38 L434.43,190.14 L434.64,187.72 L434.84,174.88 L435.05,190.00 L435.25,182.61 L435.46,183.29 L435.66,179.68 L435.86,182.02 L436.06,188.89 L436.26,191.37 L436.47,183.40 L436.67,184.43 L436.87,193.12 L437.07,196.17 L437.27,179.95 L437.46,179.81 L437.66,192.85 L437.86,188.03 L438.06,186.83 L438.26,190.88 L438.45,193.40 L438.65,180.51 L438.84,197.47 L439.04,197.53 L439.23,187.42 L439.43,188.55 L439.62,184.94 L439.82,191.04 L440.01,183.90 L440.20,190.29 L440.39,176.43 L440.59,190.00 L440.78,196.25 L440.97,184.00 L441.16,197.59 L441.35,183.17 L441.54,185.00 L441.73,194.85 L441.92,186.95 L442.11,183.55 L442.30,183.05 L442.48,196.76 L442.67,181.98 L442.86,182.80 L443.04,200.08 L443.23,197.05 L443.42,189.21 L443.60,185.89 L443.79,199.08 L443.97,197.66 L444.16,195.47 L444.34,192.91 L444.52,192.93 L444.71,180.87 L444.89,193.11 L445.07,184.68 L445.25,184.61 L445.44,194.90 L445.62,197.70 L445.80,195.78 L445.98,198.15 L446.16,189.47 L446.34,191.09 L446.52,189.13 L446.70,191.35 L446.88,189.38 L447.06,200.67 L447.23,187.26 L447.41,188.55 L447.59,198.66 L447.77,192.53 L447.94,191.52 L448.12,204.18 L448.30,202.70 L448.47,189.43 L448.65,188.27 L448.82,195.08 L449.00,196.82 L449.17,192.41 L449.34,197.40 L449.52,199.24 L449.69,202.08 L449.86,190.76 L450.04,198.93 L450.21,187.27 L450.38,187.49 L450.55,187.39 L450.72,188.71 L450.89,202.29 L451.06,194.07 L451.24,196.66 L451.41,195.91 L451.57,191.03 L451.74,187.81 L451.91,190.70 L452.08,204.74 L452.25,194.13 L452.42,195.92 L452.59,192.79 L452.75,202.81 L452.92,202.12 L453.09,195.58 L453.25,198.25 L453.42,196.03 L453.59,199.88 L453.75,200.42 L453.92,200.19 L454.08,207.18 L454.25,185.16 L454.41,189.30 L454.57,196.40 L454.74,189.23 L454.90,196.49 L455.06,205.81 L455.23,203.27 L455.39,200.96 L455.55,190.65 L455.71,206.47 L455.87,202.27 L456.04,195.62 L456.20,206.27 L456.36,190.03 L456.52,193.38 L456.68,206.70 L456.84,190.43 L457.00,192.42 L457.16,200.69 L457.32,186.95 L457.48,202.84 L457.63,190.64 L457.79,196.03 L457.95,205.78 L458.11,197.87 L458.26,194.50 L458.42,190.26 L458.58,196.22 L458.73,211.42 L458.89,191.57 L459.05,203.09 L459.20,211.31 L459.36,206.66 L459.51,197.18 L459.67,205.69 L459.82,193.65 L459.98,202.46 L460.13,197.16 L460.28,211.35 L460.44,211.25 L460.59,208.97 L460.74,200.25 L460.90,210.01 L461.05,214.31 L461.20,200.48 L461.35,204.16 L461.51,190.91 L461.66,194.90 L461.81,208.96 L461.96,194.07 L462.11,206.49 L462.26,195.54 L462.41,208.26 L462.56,210.29 L462.71,214.65 L462.86,202.30 L463.01,202.41 L463.16,202.76 L463.31,190.81 L463.45,211.75 L463.60,189.58 L463.75,201.56 L463.90,195.62 L464.05,199.78 L464.19,211.10 L464.34,215.77 L464.49,216.85 L464.63,190.22 L464.78,204.13 L464.92,214.76 L465.07,206.66 L465.22,203.32 L465.36,213.08 L465.51,215.02 L465.65,199.14 L465.80,207.52 L465.94,199.42 L466.08,200.27 L466.23,208.16 L466.37,202.12 L466.51,214.46 L466.66,204.85 L466.80,200.90 L466.94,210.91 L467.09,202.92 L467.23,198.73 L467.37,219.39 L467.51,201.56 L467.65,200.52 L467.79,208.31 L467.94,197.96 L468.08,215.30 L468.22,199.77 L468.36,199.11 L468.50,219.49 L468.64,209.78 L468.78,218.88 L468.92,218.29 L469.06,214.84 L469.20,199.62 L469.33,213.10 L469.47,200.62 L469.61,199.56 L469.75,217.77 L469.89,206.22 L470.03,215.88 L470.16,211.28 L470.30,216.89 L470.44,213.87 L470.58,221.17 L470.71,210.53 L470.85,218.79 L470.98,218.22 L471.12,213.26 L471.26,211.64 L471.39,210.11 L471.53,214.86 L471.66,205.31 L471.80,210.64 L471.93,215.20 L472.07,208.03 L472.20,206.21 L472.34,203.96 L472.47,198.33 L472.61,220.59 L472.74,199.21 L472.87,217.19 L473.01,215.13 L473.14,203.62 L473.27,221.20 L473.40,212.66 L473.54,217.28 L473.67,205.41 L473.80,218.74 L473.93,206.18 L474.06,223.44 L474.20,218.30 L474.33,214.61 L474.46,217.30 L474.59,208.48 L474.72,200.94 L474.85,205.68 L474.98,209.85 L475.11,210.06 L475.24,207.61 L475.37,212.96 L475.50,205.63 L475.63,204.92 L475.76,211.44 L475.89,225.35 L476.02,219.88 L476.15,213.67 L476.27,201.39 L476.40,207.39 L476.53,213.67 L476.66,218.72 L476.79,222.42 L476.91,214.86 L477.04,223.11 L477.17,222.34 L477.30,223.22 L477.42,212.42 L477.55,215.34 L477.68,201.32 L477.80,217.96 L477.93,206.65 L478.05,215.69 L478.18,209.34 L478.30,216.01 L478.43,209.87 L478.56,206.16 L478.68,215.07 L478.81,215.28 L478.93,217.72 L479.05,205.43 L479.18,216.97 L479.30,212.87 L479.43,208.37 L479.55,215.34 L479.67,220.81 L479.80,213.24 L479.92,221.93 L480.04,223.59 L480.17,207.39 L480.29,211.70 L480.41,206.23 L480.54,219.76 L480.66,217.62 L480.78,219.40 L480.90,209.09 L481.02,213.64 L481.15,211.06 L481.27,223.43 L481.39,222.19 L481.51,214.31 L481.63,226.38 L481.75,210.90 L481.87,208.50 L481.99,216.04 L482.11,222.30 L482.23,228.21 L482.35,219.09 L482.47,211.35 L482.59,221.10 L482.71,208.98 L482.83,225.88 L482.95,215.54 L483.07,210.98 L483.19,212.05 L483.31,226.39 L483.42,228.09 L483.54,213.00 L483.66,230.16 L483.78,227.33 L483.90,216.26 L484.02,210.48 L484.13,212.66 L484.25,218.72 L484.37,213.94 L484.48,213.51 L484.60,215.49 L484.72,228.26 L484.84,210.67 L484.95,229.34 L485.07,219.48 L485.18,225.61 L485.30,220.93 L485.42,230.10 L485.53,214.13 L485.65,215.75 L485.76,221.13 L485.88,206.32 L485.99,217.55 L486.11,217.08 L486.22,212.61 L486.34,221.35 L486.45,228.31 L486.57,229.14 L486.68,219.72 L486.80,231.65 L486.91,231.45 L487.02,217.92 L487.14,213.73 L487.25,228.90 L487.36,231.17 L487.48,225.12 L487.59,231.81 L487.70,221.65 L487.82,222.69 L487.93,213.31 L488.04,219.59 L488.15,231.31 L488.27,214.13 L488.38,214.91 L488.49,212.79 L488.60,222.57 L488.71,224.90 L488.83,223.48 L488.94,230.82 L489.05,207.67 L489.16,225.87 L489.27,208.06 L489.38,223.25 L489.49,214.26 L489.60,214.81 L489.71,226.35 L489.82,217.34 L489.93,221.68 L490.04,226.63 L490.15,225.71 L490.26,218.31 L490.37,218.88 L490.48,216.28 L490.59,227.36 L490.70,228.65 L490.81,216.32 L490.92,219.33 L491.03,216.83 L491.14,226.71 L491.24,220.10 L491.35,232.33 L491.46,219.62 L491.57,227.71 L491.68,227.62 L491.79,234.19 L491.89,229.63 L492.00,212.27 L492.11,226.84 L492.22,214.55 L492.32,221.50 L492.43,230.41 L492.54,222.00 L492.64,228.81 L492.75,217.35 L492.86,228.73 L492.96,223.22 L493.07,235.30 L493.18,216.65 L493.28,222.92 L493.39,231.72 L493.49,223.75 L493.60,225.33 L493.71,213.25 L493.81,217.64 L493.92,222.50 L494.02,234.56 L494.13,232.29 L494.23,222.50 L494.34,230.32 L494.44,233.11 L494.55,233.25 L494.65,217.30 L494.75,211.34 L494.86,236.94 L494.96,222.37 L495.07,233.25 L495.17,230.12 L495.27,235.45 L495.38,218.28 L495.48,236.95 L495.59,235.77 L495.69,221.98 L495.79,232.34 L495.89,217.06 L496.00,235.86 L496.10,226.11 L496.20,233.30 L496.31,234.57 L496.41,217.85 L496.51,236.63 L496.61,219.71 L496.71,220.87 L496.82,227.54 L496.92,223.17 L497.02,231.90 L497.12,221.93 L497.22,231.50 L497.32,234.62 L497.43,239.14 L497.53,226.81 L497.63,224.38 L497.73,230.88 L497.83,232.58 L497.93,238.65 L498.03,231.28 L498.13,228.10 L498.23,225.06 L498.33,234.59 L498.43,232.73 L498.53,220.27 L498.63,225.38 L498.73,222.53 L498.83,229.88 L498.93,227.41 L499.03,222.55 L499.13,230.86 L499.23,233.81 L499.33,226.81 L499.43,237.86 L499.53,221.61 L499.63,220.70 L499.72,235.25 L499.82,232.11 L499.92,236.40 L500.02,240.56 L500.12,231.16 L500.22,238.08 L500.31,234.37 L500.41,231.45 L500.51,231.28 L500.61,242.31 L500.70,227.89 L500.80,229.73 L500.90,230.92 L501.00,234.71 L501.09,221.77 L501.19,235.12 L501.29,221.39 L501.39,229.14 L501.48,230.62 L501.58,233.48 L501.68,233.68 L501.77,234.47 L501.87,221.47 L501.96,228.40 L502.06,237.73 L502.16,230.54 L502.25,239.87 L502.35,233.54 L502.44,234.20 L502.54,236.70 L502.63,243.72 L502.73,221.58 L502.83,224.25 L502.92,223.63 L503.02,226.37 L503.11,222.21 L503.21,244.28 L503.30,225.29 L503.40,232.74 L503.49,242.10 L503.58,232.87 L503.68,227.75 L503.77,228.85 L503.87,231.88 L503.96,229.34 L504.06,233.14 L504.15,231.89 L504.24,224.36 L504.34,242.58 L504.43,244.84 L504.52,235.58 L504.62,224.91 L504.71,243.68 L504.80,231.20 L504.90,231.70 L504.99,228.87 L505.08,244.43 L505.18,239.05 L505.27,230.12 L505.36,231.77 L505.45,233.06 L505.55,232.16 L505.64,238.94 L505.73,245.39 L505.82,224.61 L505.91,243.19 L506.01,243.29 L506.10,228.86 L506.19,246.39 L506.28,244.11 L506.37,240.65 L506.46,226.56 L506.56,234.46 L506.65,241.65 L506.74,237.05 L506.83,225.72 L506.92,242.01 L507.01,233.95 L507.10,229.65 L507.19,232.64 L507.28,227.10 L507.37,233.09 L507.47,225.21 L507.56,247.88 L507.65,228.13 L507.74,232.85 L507.83,232.04 L507.92,235.76 L508.01,233.05 L508.10,245.73 L508.19,229.69 L508.28,248.39 L508.36,234.55 L508.45,248.19 L508.54,233.36 L508.63,227.58 L508.72,244.96 L508.81,229.50 L508.90,243.01" stroke="#000000"/>
<line x1="53.8" y1="122.5" x2="508.9" y2="122.5" stroke="#000000" stroke-width="2.05" stroke-dasharray="7.55,3.26" stroke-linecap="butt"/>
<path d="M53.80,149.70 L68.00,152.00 L83.00,151.10 L99.20,150.20 L110.70,153.40 L122.20,157.30 L136.00,161.90 L143.00,160.80 L150.00,163.00 L154.50,163.50 L158.00,156.20 L162.70,151.50 L165.00,151.50 L168.40,156.20 L171.00,153.50 L175.40,151.20 L180.80,153.50 L185.40,157.30 L191.50,161.90 L195.40,159.60 L198.50,151.90 L202.30,145.50 L205.40,151.90 L208.50,162.70 L211.50,166.50 L216.20,165.80 L219.20,161.20 L221.50,156.50 L223.00,158.80 L225.40,166.50 L229.20,165.80 L232.30,160.40 L234.60,155.80 L236.90,161.20 L239.20,156.50 L241.50,151.90 L243.80,141.90 L246.20,151.90 L247.15,151.99 L248.10,155.80 L250.00,158.85 L251.90,161.90 L253.45,160.86 L255.00,158.80 L256.15,158.39 L257.30,162.70 L258.85,159.39 L260.40,159.60 L262.30,161.34 L264.20,158.80 L265.75,154.35 L267.30,154.20 L268.45,158.15 L269.60,165.80 L270.75,163.04 L271.90,155.80 L273.45,147.16 L275.00,137.30 L276.55,142.04 L278.10,148.10 L279.65,155.86 L281.20,163.50 L283.10,162.76 L285.00,160.40 L286.55,157.73 L288.10,157.30 L289.65,157.44 L291.20,161.20 L292.70,161.44 L294.20,158.80 L295.75,162.75 L297.30,165.00 L298.85,166.21 L300.40,167.30 L301.55,168.13 L302.70,165.80 L303.85,167.55 L305.00,168.80 L306.15,151.60 L307.30,129.60 L308.45,150.42 L309.60,174.20 L311.55,172.97 L313.50,171.20 L314.65,171.87 L315.80,172.70 L317.30,169.62 L318.80,168.00 L320.35,166.01 L321.90,163.10 L323.40,163.68 L324.90,166.90 L326.05,172.26 L327.20,174.60 L328.35,179.54 L329.50,180.80 L330.65,175.09 L331.80,173.10 L333.20,166.79 L334.60,160.80 L335.55,165.04 L336.50,171.50 L337.65,175.22 L338.80,183.10 L339.95,182.38 L341.10,177.70 L342.25,177.75 L343.40,178.50 L344.55,173.64 L345.70,172.30 L346.85,178.57 L348.00,183.10 L349.15,182.36 L350.30,184.60 L351.70,175.46 L353.10,162.30 L354.00,160.14 L354.90,160.80 L355.70,165.37 L356.50,174.60 L357.25,180.80 L358.00,190.00 L359.15,190.78 L360.30,193.10 L361.45,190.64 L362.60,188.50 L363.40,186.68 L364.20,180.80 L364.95,184.84 L365.70,186.90 L366.45,182.25 L367.20,179.20 L368.00,181.43 L368.80,188.50 L369.95,171.40 L371.10,157.70 L371.85,176.33 L372.60,190.00 L373.75,185.95 L374.90,182.30 L376.05,177.86 L377.20,171.50 L378.00,177.77 L378.80,188.50 L379.95,184.62 L381.10,185.40 L382.25,184.03 L383.40,179.20 L384.15,187.34 L384.90,194.60 L386.05,185.19 L387.20,177.70 L388.35,184.49 L389.50,193.10 L390.65,192.60 L391.80,196.20 L393.35,192.21 L394.90,191.50 L395.01,204.93 L396.28,165.22 L397.54,207.07 L398.77,190.80 L399.99,201.53 L401.19,197.87 L402.38,190.00 L403.55,195.45 L404.71,209.38 L405.85,203.84 L406.97,211.33 L408.08,196.70 L409.18,203.69 L410.27,211.13 L411.34,215.37 L412.40,204.45 L413.45,216.15 L414.48,215.94 L415.50,202.81 L416.51,202.00 L417.51,213.48 L418.50,218.24 L419.48,213.86 L420.45,205.12 L421.40,212.02 L422.35,200.70 L423.29,213.14 L424.21,221.41 L425.13,211.69 L426.04,210.14 L426.94,215.60 L427.83,218.05 L428.71,162.00 L429.58,218.08 L430.44,213.70 L431.30,224.93 L432.15,218.80 L432.98,206.00 L433.82,220.07 L434.64,216.91 L435.46,224.78 L436.26,226.63 L437.07,199.40 L437.86,223.50 L438.65,222.81 L439.43,220.84 L440.20,222.24 L440.97,184.70 L441.73,232.45 L442.48,226.07 L443.23,168.70 L443.97,222.54 L444.71,234.70 L445.44,230.16 L446.16,234.35 L446.88,214.60 L447.59,206.00 L448.30,229.66 L449.00,238.05 L449.69,231.66 L450.38,233.00 L451.06,213.00 L451.74,238.86 L452.42,233.11 L453.09,232.51 L453.75,214.93 L454.41,231.08 L455.06,234.90 L455.71,240.99 L456.36,223.12 L457.00,234.42 L457.63,233.12 L458.26,241.57 L458.89,220.50 L459.51,236.26 L460.13,239.64 L460.74,235.23 L461.35,242.47 L461.96,240.92 L462.56,243.20 L463.16,236.85 L463.75,243.22 L464.34,224.00 L464.92,242.32 L465.51,240.90 L466.08,244.43 L466.66,244.06 L467.23,244.90 L467.65,239.27 L468.08,241.23 L468.50,239.86 L468.92,243.40 L469.33,225.80 L469.75,241.03 L470.16,247.10 L470.58,245.45 L470.98,245.82 L471.39,247.07 L471.80,250.81 L472.20,247.44 L472.61,242.53 L473.01,243.32 L473.40,249.21 L473.80,245.61 L474.20,250.29 L474.59,248.00 L474.98,246.88 L475.37,250.79 L475.76,245.32 L476.15,246.59 L476.53,246.89 L476.91,248.37 L477.30,253.57 L477.80,161.80 L478.30,253.27 L478.81,251.63 L479.30,245.66 L479.80,248.74 L480.29,251.18 L480.78,255.45 L481.27,250.36 L481.75,225.74 L482.23,255.81 L482.71,250.95 L483.19,255.35 L483.66,254.07 L484.13,229.40 L484.60,254.97 L485.07,253.76 L485.53,250.20 L485.99,258.53 L486.45,259.56 L486.91,258.42 L487.36,253.72 L487.82,256.89 L488.27,258.57 L488.71,251.44 L489.16,259.29 L489.60,231.20 L490.04,261.39 L490.48,254.31 L490.92,262.16 L491.35,225.25 L491.79,258.15 L492.22,261.54 L492.64,263.45 L493.07,260.71 L493.49,262.33 L493.92,257.84 L494.34,261.93 L494.75,227.60 L495.17,264.35 L495.59,262.91 L496.00,258.90 L496.41,263.51 L496.82,255.97 L497.22,265.52 L497.63,263.24 L498.03,259.48 L498.43,263.20 L498.83,264.94 L499.23,263.46 L499.63,266.53 L500.02,261.58 L500.41,260.78 L500.80,261.59 L501.19,260.84 L501.58,263.31 L501.96,206.30 L502.35,268.38 L502.73,265.86 L503.11,246.49 L503.49,270.36 L503.87,266.97 L504.24,260.37 L504.62,267.09 L504.99,260.01 L505.36,231.00 L505.73,272.44 L506.10,266.42 L506.46,272.20 L506.83,241.01 L507.19,273.16 L507.56,263.33 L507.92,272.11 L508.28,241.90 L508.63,266.88" stroke="#8b0000"/>
<line x1="53.8" y1="156.9" x2="508.9" y2="156.9" stroke="#8b0000" stroke-width="2.05" stroke-dasharray="7.55,3.26" stroke-linecap="butt"/>
</g>
<rect x="53.8" y="1.1" width="455.10" height="301.10" fill="none" stroke="#000" stroke-width="0.8"/>
<g stroke="#000"><line x1="53.75" y1="302.2" x2="53.75" y2="303.8" stroke-width="0.6"/><line x1="67.47" y1="302.2" x2="67.47" y2="303.8" stroke-width="0.6"/><line x1="79.35" y1="302.2" x2="79.35" y2="303.8" stroke-width="0.6"/><line x1="89.83" y1="302.2" x2="89.83" y2="303.8" stroke-width="0.6"/><line x1="99.20" y1="302.2" x2="99.20" y2="305.2" stroke-width="0.8"/><line x1="160.87" y1="302.2" x2="160.87" y2="303.8" stroke-width="0.6"/><line x1="196.94" y1="302.2" x2="196.94" y2="303.8" stroke-width="0.6"/><line x1="222.53" y1="302.2" x2="222.53" y2="303.8" stroke-width="0.6"/><line x1="242.38" y1="302.2" x2="242.38" y2="303.8" stroke-width="0.6"/><line x1="258.60" y1="302.2" x2="258.60" y2="303.8" stroke-width="0.6"/><line x1="272.32" y1="302.2" x2="272.32" y2="303.8" stroke-width="0.6"/><line x1="284.20" y1="302.2" x2="284.20" y2="303.8" stroke-width="0.6"/><line x1="294.68" y1="302.2" x2="294.68" y2="303.8" stroke-width="0.6"/><line x1="304.05" y1="302.2" x2="304.05" y2="305.2" stroke-width="0.8"/><line x1="365.72" y1="302.2" x2="365.72" y2="303.8" stroke-width="0.6"/><line x1="401.79" y1="302.2" x2="401.79" y2="303.8" stroke-width="0.6"/><line x1="427.38" y1="302.2" x2="427.38" y2="303.8" stroke-width="0.6"/><line x1="447.23" y1="302.2" x2="447.23" y2="303.8" stroke-width="0.6"/><line x1="463.45" y1="302.2" x2="463.45" y2="303.8" stroke-width="0.6"/><line x1="477.17" y1="302.2" x2="477.17" y2="303.8" stroke-width="0.6"/><line x1="489.05" y1="302.2" x2="489.05" y2="303.8" stroke-width="0.6"/><line x1="499.53" y1="302.2" x2="499.53" y2="303.8" stroke-width="0.6"/><line x1="508.90" y1="302.2" x2="508.90" y2="305.2" stroke-width="0.8"/><line x1="53.8" y1="302.23" x2="52.199999999999996" y2="302.23" stroke-width="0.6"/><line x1="53.8" y1="289.53" x2="52.199999999999996" y2="289.53" stroke-width="0.6"/><line x1="53.8" y1="280.51" x2="52.199999999999996" y2="280.51" stroke-width="0.6"/><line x1="53.8" y1="273.52" x2="52.199999999999996" y2="273.52" stroke-width="0.6"/><line x1="53.8" y1="267.81" x2="52.199999999999996" y2="267.81" stroke-width="0.6"/><line x1="53.8" y1="262.98" x2="52.199999999999996" y2="262.98" stroke-width="0.6"/><line x1="53.8" y1="258.80" x2="52.199999999999996" y2="258.80" stroke-width="0.6"/><line x1="53.8" y1="255.11" x2="52.199999999999996" y2="255.11" stroke-width="0.6"/><line x1="53.8" y1="251.81" x2="50.8" y2="251.81" stroke-width="0.8"/><line x1="53.8" y1="230.10" x2="52.199999999999996" y2="230.10" stroke-width="0.6"/><line x1="53.8" y1="217.40" x2="52.199999999999996" y2="217.40" stroke-width="0.6"/><line x1="53.8" y1="208.38" x2="52.199999999999996" y2="208.38" stroke-width="0.6"/><line x1="53.8" y1="201.39" x2="52.199999999999996" y2="201.39" stroke-width="0.6"/><line x1="53.8" y1="195.68" x2="52.199999999999996" y2="195.68" stroke-width="0.6"/><line x1="53.8" y1="190.85" x2="52.199999999999996" y2="190.85" stroke-width="0.6"/><line x1="53.8" y1="186.67" x2="52.199999999999996" y2="186.67" stroke-width="0.6"/><line x1="53.8" y1="182.98" x2="52.199999999999996" y2="182.98" stroke-width="0.6"/><line x1="53.8" y1="179.68" x2="50.8" y2="179.68" stroke-width="0.8"/><line x1="53.8" y1="157.97" x2="52.199999999999996" y2="157.97" stroke-width="0.6"/><line x1="53.8" y1="145.27" x2="52.199999999999996" y2="145.27" stroke-width="0.6"/><line x1="53.8" y1="136.25" x2="52.199999999999996" y2="136.25" stroke-width="0.6"/><line x1="53.8" y1="129.26" x2="52.199999999999996" y2="129.26" stroke-width="0.6"/><line x1="53.8" y1="123.55" x2="52.199999999999996" y2="123.55" stroke-width="0.6"/><line x1="53.8" y1="118.72" x2="52.199999999999996" y2="118.72" stroke-width="0.6"/><line x1="53.8" y1="114.54" x2="52.199999999999996" y2="114.54" stroke-width="0.6"/><line x1="53.8" y1="110.85" x2="52.199999999999996" y2="110.85" stroke-width="0.6"/><line x1="53.8" y1="107.55" x2="50.8" y2="107.55" stroke-width="0.8"/><line x1="53.8" y1="85.84" x2="52.199999999999996" y2="85.84" stroke-width="0.6"/><line x1="53.8" y1="73.14" x2="52.199999999999996" y2="73.14" stroke-width="0.6"/><line x1="53.8" y1="64.12" x2="52.199999999999996" y2="64.12" stroke-width="0.6"/><line x1="53.8" y1="57.13" x2="52.199999999999996" y2="57.13" stroke-width="0.6"/><line x1="53.8" y1="51.42" x2="52.199999999999996" y2="51.42" stroke-width="0.6"/><line x1="53.8" y1="46.59" x2="52.199999999999996" y2="46.59" stroke-width="0.6"/><line x1="53.8" y1="42.41" x2="52.199999999999996" y2="42.41" stroke-width="0.6"/><line x1="53.8" y1="38.72" x2="52.199999999999996" y2="38.72" stroke-width="0.6"/><line x1="53.8" y1="35.42" x2="50.8" y2="35.42" stroke-width="0.8"/><line x1="53.8" y1="13.71" x2="52.199999999999996" y2="13.71" stroke-width="0.6"/><line x1="53.8" y1="1.01" x2="52.199999999999996" y2="1.01" stroke-width="0.6"/></g>
<g class="t"><text x="87.36" y="316.8">10</text><text x="105.03" y="311.7" font-size="9.45">1</text><text x="292.21" y="316.8">10</text><text x="309.88" y="311.7" font-size="9.45">2</text><text x="497.06" y="316.8">10</text><text x="514.73" y="311.7" font-size="9.45">3</text><text x="24.62" y="40.42">10</text><text x="42.29" y="35.32" font-size="9.45">2</text><text x="24.62" y="112.55">10</text><text x="42.29" y="107.45" font-size="9.45">1</text><text x="24.62" y="184.68">10</text><text x="42.29" y="179.58" font-size="9.45">0</text><text x="17.25" y="256.81">10</text><text x="34.92" y="251.71" font-size="9.45">−1</text></g>
<text class="t" x="281.35" y="333.4" text-anchor="middle">Frequency (Hz)</text>
<text class="t" transform="translate(12.0,151.65) rotate(-90)" text-anchor="middle">Magnetic noise density (nT/√Hz)</text>
<rect x="61.4" y="211.8" width="273.6" height="83.2" rx="2.5" fill="#fff" stroke="#cccccc" stroke-width="0.8"/><line x1="65.3" y1="222.70" x2="93.9" y2="222.70" stroke="#2ca02c" stroke-width="1.7"/><text class="t" x="104.6" y="227.60">CMR off</text><line x1="65.3" y1="242.40" x2="93.9" y2="242.40" stroke="#2c8fd6" stroke-width="1.7"/><text class="t" x="104.6" y="247.30">CMR on, magnetically insensitive</text><line x1="65.3" y1="262.10" x2="93.9" y2="262.10" stroke="#000000" stroke-width="1.7"/><text class="t" x="104.6" y="267.00">CMR on, magnetically sensitive</text><line x1="65.3" y1="281.80" x2="93.9" y2="281.80" stroke="#8b0000" stroke-width="1.7"/><text class="t" x="104.6" y="286.70">Electronic Noise</text>
</svg>
</body></html>
